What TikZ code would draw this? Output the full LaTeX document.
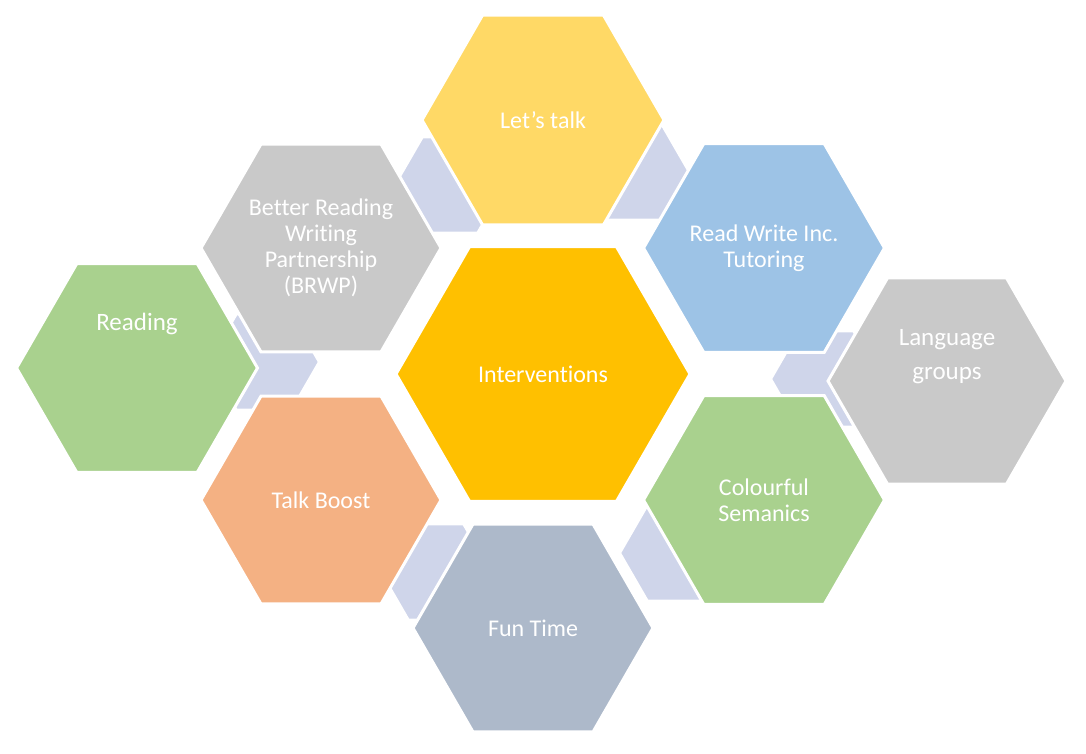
\documentclass[tikz,border=0pt]{standalone}
\usepackage{fontspec}
\setmainfont{Carlito}[Ligatures=NoCommon]
\usepackage{xcolor}
\definecolor{hexGold}{HTML}{FFC000}
\definecolor{hexYellow}{HTML}{FFD966}
\definecolor{hexBlue}{HTML}{9DC3E6}
\definecolor{hexGrey}{HTML}{C9C9C9}
\definecolor{hexGreen}{HTML}{A9D18E}
\definecolor{hexSlate}{HTML}{ADB9CA}
\definecolor{hexOrange}{HTML}{F4B183}
\definecolor{hexLavender}{HTML}{CFD5EA}
\usepackage{tikz}
\usetikzlibrary{shapes.geometric}

\begin{document}
\begin{tikzpicture}[x=1pt, y=-1pt,
  hexcell/.style={regular polygon, regular polygon sides=6, draw=white, line width=3pt, inner sep=0pt, outer sep=0pt},
  hexlink/.style={hexcell, fill=hexLavender, minimum size=111pt},
  celltext/.style={text=white, align=center, font=\fontsize{24}{26}\selectfont}]
  \useasboundingbox (0,0) rectangle (1086,753);
  % small link hexagons, mostly hidden behind the cells
  \foreach \x/\y [count=\i] in {450/185, 634/172, 264/362, 826/379, 436/572, 675/553}
    \node[hexlink] (link\i) at (\x,\y) {};
  % cells
  \node[hexcell, fill=hexGold, minimum size=294pt] (inter) at (543,374) {};
  \node[hexcell, fill=hexYellow, minimum size=242pt] (letstalk) at (543,120) {};
  \node[hexcell, fill=hexBlue, minimum size=241pt] (rwi) at (764,248) {};
  \node[hexcell, fill=hexGrey, minimum size=238pt] (langgrp) at (947,381) {};
  \node[hexcell, fill=hexGreen, minimum size=241pt] (colsem) at (764,500) {};
  \node[hexcell, fill=hexSlate, minimum size=240pt] (funtime) at (533,628) {};
  \node[hexcell, fill=hexOrange, minimum size=240pt] (talkboost) at (321,500) {};
  \node[hexcell, fill=hexGrey, minimum size=240pt] (brwp) at (321,248) {};
  \node[hexcell, fill=hexGreen, minimum size=241pt] (reading) at (137,368) {};
  % labels
  \node[celltext] at (inter) {Interventions};
  \node[celltext] at (letstalk) {Let's talk};
  \node[celltext] at (rwi) {Read Write Inc.\\Tutoring};
  \node[celltext, font=\fontsize{25}{34}\selectfont] at ([yshift=24pt]langgrp.center) {Language\\groups};
  \node[celltext] at (colsem) {Colourful\\Semanics};
  \node[celltext] at (funtime) {Fun Time};
  \node[celltext] at (talkboost) {Talk Boost};
  \node[celltext] at (brwp) {Better Reading\\Writing\\Partnership\\(BRWP)};
  \node[celltext, font=\fontsize{25}{30}\selectfont] at ([yshift=44pt]reading.center) {Reading};
\end{tikzpicture}
\end{document}
